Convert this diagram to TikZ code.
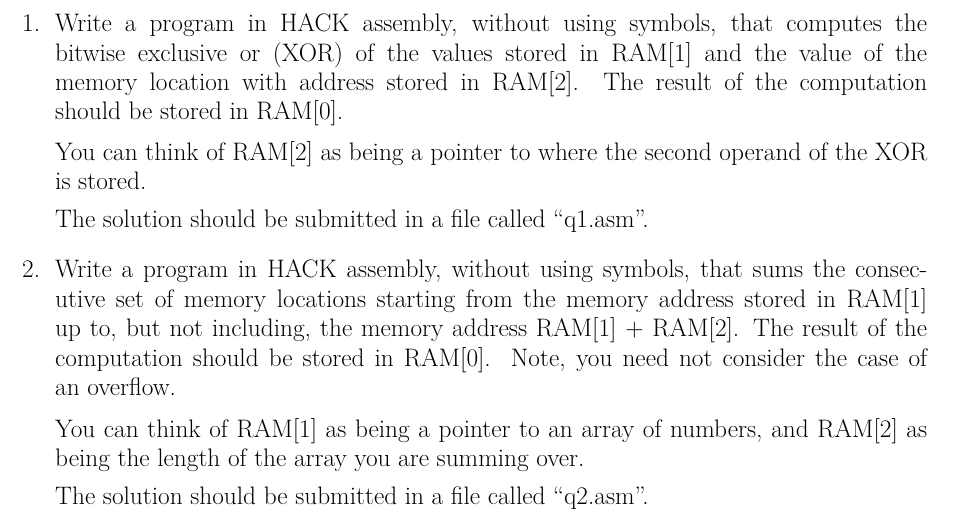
\documentclass[tikz,border=0pt]{standalone}
\usepackage{fontspec}
\begin{document}
\begin{tikzpicture}[x=1pt,y=1pt,
  ln/.style={anchor=base west,inner sep=0pt,font=\fontsize{25.3}{29}\selectfont}]
\fill[white] (0,0) rectangle (979,-526);
\useasboundingbox (0,0) rectangle (979,-526);
\def\J#1{\makebox[872pt][s]{#1}}
\node[ln] (n1) at (22,-32) {1.};
\node[ln] (a1) at (55,-32) {\J{Write a program in HACK assembly, without using symbols, that computes the}};
\node[ln] (a2) at (55,-62) {\J{bitwise exclusive or (XOR) of the values stored in RAM[1] and the value of the}};
\node[ln] (a3) at (55,-91) {\J{memory location with address stored in RAM[2].\ \ The result of the computation}};
\node[ln] (a4) at (55,-120) {should be stored in RAM[0].};
\node[ln] (a5) at (55,-161) {\J{You can think of RAM[2] as being a pointer to where the second operand of the XOR}};
\node[ln] (a6) at (55,-190) {is stored.};
\node[ln] (a7) at (55,-228) {The solution should be submitted in a file called “q1.asm”.};
\node[ln] (n2) at (22,-278) {2.};
\node[ln] (b1) at (55,-278) {\J{Write a program in HACK assembly, without using symbols, that sums the consec-}};
\node[ln] (b2) at (55,-308) {\J{utive set of memory locations starting from the memory address stored in RAM[1]}};
\node[ln] (b3) at (55,-337) {\J{up to, but not including, the memory address RAM[1] + RAM[2]. The result of the}};
\node[ln] (b4) at (55,-366) {\J{computation should be stored in RAM[0].\ \ Note, you need not consider the case of}};
\node[ln] (b5) at (55,-395) {an overflow.};
\node[ln] (b6) at (55,-437) {\J{You can think of RAM[1] as being a pointer to an array of numbers, and RAM[2] as}};
\node[ln] (b7) at (55,-466) {being the length of the array you are summing over.};
\node[ln] (b8) at (55,-504) {The solution should be submitted in a file called “q2.asm”.};
\end{tikzpicture}
\end{document}
